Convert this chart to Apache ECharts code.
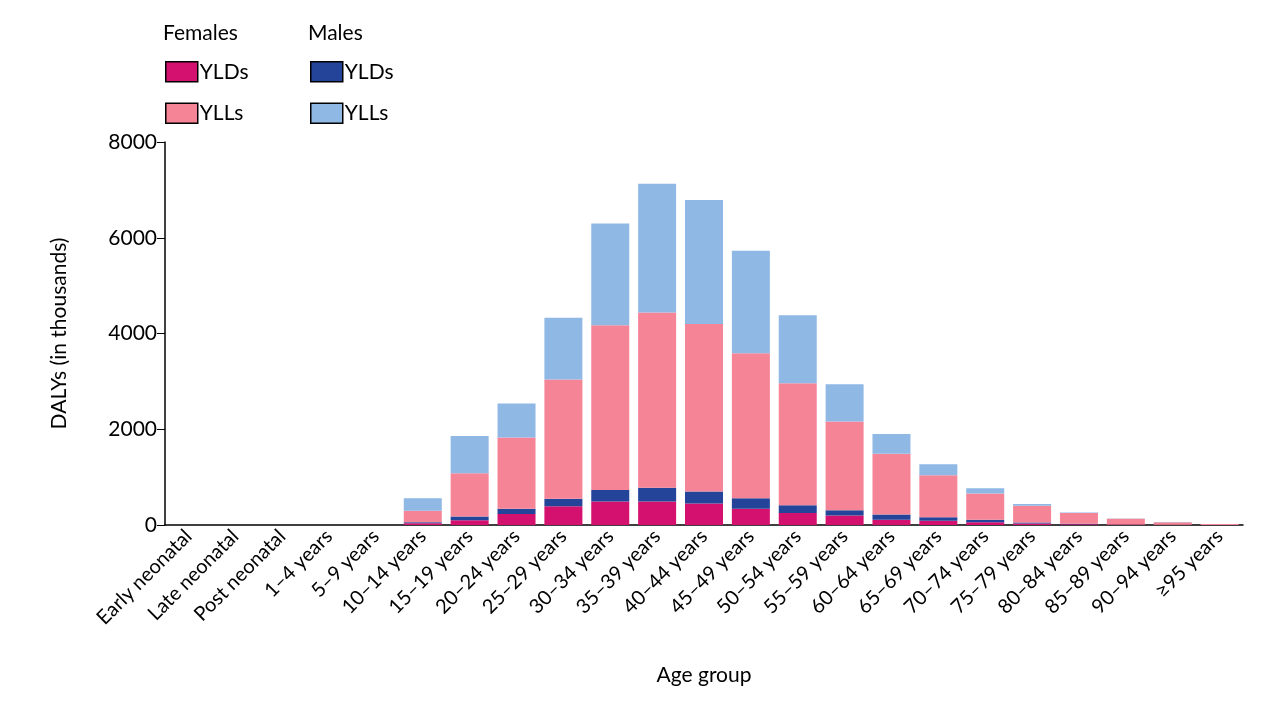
<!DOCTYPE html><html><head><meta charset="utf-8"><script src="https://cdn.jsdelivr.net/npm/echarts@6/dist/echarts.min.js"></script></head><body style="margin:0"><div id="c" style="width:1269px;height:708px"></div><script>
const categories=["Early neonatal","Late neonatal","Post neonatal","1–4 years","5–9 years","10–14 years","15–19 years","20–24 years","25–29 years","30–34 years","35–39 years","40–44 years","45–49 years","50–54 years","55–59 years","60–64 years","65–69 years","70–74 years","75–79 years","80–84 years","85–89 years","90–94 years","≥95 years"];
const femaleYLDs=[0,0,0,0,0,35,100,230,390,490,490,450,340,250,200,110,90,60,30,15,8,3,1];
const maleYLDs=[0,0,0,0,0,25,80,110,160,240,290,250,220,160,110,110,70,50,20,10,4,2,1];
const femaleYLLs=[0,0,0,0,0,240,900,1490,2490,3440,3660,3500,3030,2550,1850,1270,880,550,350,225,118,55,18];
const maleYLLs=[0,0,0,0,0,260,780,710,1290,2130,2690,2590,2140,1420,780,410,230,110,40,10,5,2,1];
const F='Lato, "Noto Sans", sans-serif';
const mk=(n,d,c)=>({name:n,type:'bar',stack:'a',data:d,barWidth:38,itemStyle:{color:c,borderWidth:0}});
const ch=echarts.init(document.getElementById('c'));
ch.setOption({animation:false,textStyle:{fontFamily:F},
grid:{left:165,right:26,top:142,bottom:183},
graphic:[{type:'text',left:163,top:23,style:{text:'Females',font:'21px '+F,fill:'#000'}},
{type:'text',left:308,top:23,style:{text:'Males',font:'21px '+F,fill:'#000'}}],
legend:[{left:160,top:56,orient:'vertical',itemGap:20,itemWidth:32,itemHeight:20,textStyle:{fontSize:21,color:'#000',padding:[0,0,0,-3]},itemStyle:{borderColor:'#000',borderWidth:1.5},data:[{name:'fYLD',icon:'rect'},{name:'fYLL',icon:'rect'}],formatter:n=>n.slice(1)+'s'},
{left:305,top:56,orient:'vertical',itemGap:20,itemWidth:32,itemHeight:20,textStyle:{fontSize:21,color:'#000',padding:[0,0,0,-3]},itemStyle:{borderColor:'#000',borderWidth:1.5},data:[{name:'mYLD',icon:'rect'},{name:'mYLL',icon:'rect'}],formatter:n=>n.slice(1)+'s'}],
xAxis:{type:'category',data:categories,name:'Age group',nameLocation:'middle',nameGap:140,nameTextStyle:{fontSize:21,color:'#000'},
axisLine:{lineStyle:{color:'#000',width:1.5}},axisTick:{length:8,lineStyle:{color:'#000'}},axisLabel:{rotate:45,fontSize:20,color:'#000',interval:0}},
yAxis:{type:'value',min:0,max:8000,interval:2000,name:'DALYs (in thousands)',nameLocation:'middle',nameGap:95,nameTextStyle:{fontSize:21,color:'#000'},
axisLine:{show:true,lineStyle:{color:'#000',width:1.5}},axisTick:{show:true,length:8,lineStyle:{color:'#000'}},splitLine:{show:false},axisLabel:{fontSize:21,color:'#000',formatter:v=>String(v)}},
series:[mk('fYLD',femaleYLDs,'#d4116e'),mk('mYLD',maleYLDs,'#24449a'),mk('fYLL',femaleYLLs,'#f68497'),mk('mYLL',maleYLLs,'#8fb8e5')]});
</script></body></html>
